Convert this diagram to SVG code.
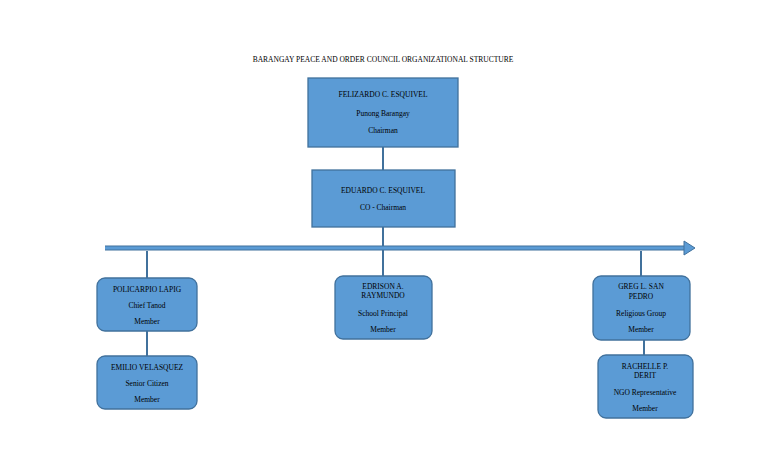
<svg xmlns="http://www.w3.org/2000/svg" width="768" height="466" viewBox="0 0 768 466">
<style>
.b{fill:#5b9bd5;stroke:#41719c;stroke-width:1.3}
.t{font-family:"Liberation Serif",serif;font-size:7.5px;fill:#000;text-anchor:middle}
.c{stroke:#41719c;stroke-width:2;fill:none}
</style>
<rect width="768" height="466" fill="#fff"/>
<text class="t" x="383" y="62" font-size="8">BARANGAY PEACE AND ORDER COUNCIL ORGANIZATIONAL STRUCTURE</text>
<g id="connectors">
<line class="c" x1="383" y1="147" x2="383" y2="170"/>
<line class="c" x1="383" y1="227" x2="383" y2="276"/>
<line x1="105" y1="248" x2="684" y2="248" stroke="#41719c" stroke-width="5"/>
<line x1="105" y1="248" x2="684" y2="248" stroke="#5b9bd5" stroke-width="3"/>
<polygon points="684,241 695,248 684,255" fill="#5b9bd5" stroke="#41719c" stroke-width="1"/>
<line class="c" x1="147" y1="251" x2="147" y2="278"/>
<line class="c" x1="641" y1="251" x2="641" y2="276"/>
<line class="c" x1="147" y1="331" x2="147" y2="356"/>
<line class="c" x1="644" y1="340" x2="644" y2="355"/>
</g>
<g id="felizardo"><rect class="b" x="308" y="78" width="150" height="69"/>
<text class="t" x="383" y="97">FELIZARDO C. ESQUIVEL</text><text class="t" x="383" y="116">Punong Barangay</text><text class="t" x="383" y="133">Chairman</text></g>
<g id="eduardo"><rect class="b" x="312" y="170" width="143" height="57"/>
<text class="t" x="383" y="193">EDUARDO C. ESQUIVEL</text><text class="t" x="383" y="210">CO - Chairman</text></g>
<g id="policarpio"><rect class="b" x="97" y="278" width="100" height="53" rx="8"/>
<text class="t" x="147" y="292">POLICARPIO LAPIG</text><text class="t" x="147" y="308">Chief Tanod</text><text class="t" x="147" y="324">Member</text></g>
<g id="emilio"><rect class="b" x="97" y="356" width="100" height="53" rx="8"/>
<text class="t" x="147" y="370">EMILIO VELASQUEZ</text><text class="t" x="147" y="386">Senior Citizen</text><text class="t" x="147" y="402">Member</text></g>
<g id="edrison"><rect class="b" x="335" y="276" width="97" height="63" rx="8"/>
<text class="t" x="383" y="289">EDRISON A.</text><text class="t" x="383" y="298">RAYMUNDO</text><text class="t" x="383" y="316">School Principal</text><text class="t" x="383" y="332">Member</text></g>
<g id="greg"><rect class="b" x="593" y="276" width="97" height="64" rx="8"/>
<text class="t" x="641" y="289">GREG L. SAN</text><text class="t" x="641" y="299">PEDRO</text><text class="t" x="641" y="316">Religious Group</text><text class="t" x="641" y="332">Member</text></g>
<g id="rachelle"><rect class="b" x="598" y="355" width="95" height="63" rx="8"/>
<text class="t" x="645" y="369">RACHELLE P.</text><text class="t" x="645" y="378">DERIT</text><text class="t" x="645" y="395">NGO Representative</text><text class="t" x="645" y="411">Member</text></g>
</svg>
